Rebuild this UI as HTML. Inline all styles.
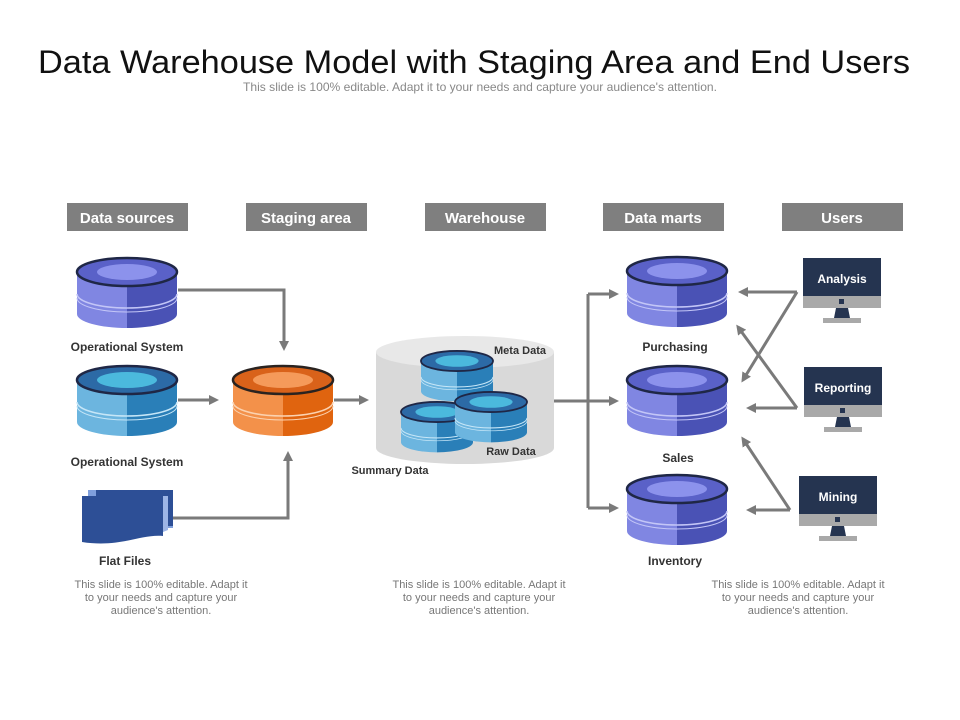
<!DOCTYPE html>
<html><head><meta charset="utf-8"><style>
html,body{margin:0;padding:0;background:#fff;}
svg{display:block;font-family:"Liberation Sans",sans-serif;}
</style></head><body>
<svg width="960" height="720" viewBox="0 0 960 720" xmlns="http://www.w3.org/2000/svg">
<defs>
<g id="cp">
<path d="M-50 0 L-50 42 A50 14 0 0 0 0 56 L0 0 Z" fill="#8086e2"/>
<path d="M0 0 L0 56 A50 14 0 0 0 50 42 L50 0 Z" fill="#4a52b5"/>
<path d="M-50 22 A50 14 0 0 0 50 22" fill="none" stroke="#c3c6f7" stroke-width="1.5"/>
<path d="M-50 26 A50 14 0 0 0 50 26" fill="none" stroke="#c3c6f7" stroke-width="1"/>
<ellipse cx="0" cy="0" rx="50" ry="14" fill="#5a61c8" stroke="#1f2746" stroke-width="2.5"/>
<ellipse cx="0" cy="0" rx="30" ry="8" fill="#8c92ec"/>
</g>
<g id="cb">
<path d="M-50 0 L-50 42 A50 14 0 0 0 0 56 L0 0 Z" fill="#6cb5df"/>
<path d="M0 0 L0 56 A50 14 0 0 0 50 42 L50 0 Z" fill="#2a7fb8"/>
<path d="M-50 22 A50 14 0 0 0 50 22" fill="none" stroke="#c6e6f7" stroke-width="1.5"/>
<path d="M-50 26 A50 14 0 0 0 50 26" fill="none" stroke="#c6e6f7" stroke-width="1"/>
<ellipse cx="0" cy="0" rx="50" ry="14" fill="#2c6aa6" stroke="#1f2746" stroke-width="2.5"/>
<ellipse cx="0" cy="0" rx="30" ry="8" fill="#4bb9dd"/>
</g>
<g id="co">
<path d="M-50 0 L-50 42 A50 14 0 0 0 0 56 L0 0 Z" fill="#f3914a"/>
<path d="M0 0 L0 56 A50 14 0 0 0 50 42 L50 0 Z" fill="#e0640f"/>
<path d="M-50 22 A50 14 0 0 0 50 22" fill="none" stroke="#fbd2b0" stroke-width="1.5"/>
<path d="M-50 26 A50 14 0 0 0 50 26" fill="none" stroke="#fbd2b0" stroke-width="1"/>
<ellipse cx="0" cy="0" rx="50" ry="14" fill="#d9621a" stroke="#2a2320" stroke-width="2.5"/>
<ellipse cx="0" cy="0" rx="30" ry="8" fill="#f59a5a"/>
</g>
<marker id="ah" markerWidth="10" markerHeight="10" refX="7" refY="5" orient="auto" markerUnits="userSpaceOnUse">
<path d="M0 0 L10 5 L0 10 Z" fill="#7a7a7a"/>
</marker>
<g id="mon">
<rect x="0" y="0" width="78" height="38" fill="#253450"/>
<rect x="0" y="38" width="78" height="12" fill="#a9a9a9"/>
<rect x="36" y="41" width="5" height="5" fill="#253450"/>
<path d="M33 50 L45 50 L47 60 L31 60 Z" fill="#253450"/>
<rect x="20" y="60" width="38" height="5" fill="#a9a9a9"/>
</g>
</defs>

<text x="474" y="73" text-anchor="middle" font-size="32" fill="#111" textLength="872" lengthAdjust="spacingAndGlyphs">Data Warehouse Model with Staging Area and End Users</text>
<text x="480" y="91" text-anchor="middle" font-size="12" fill="#888" textLength="474" lengthAdjust="spacingAndGlyphs">This slide is 100% editable. Adapt it to your needs and capture your audience's attention.</text>

<g font-size="15" font-weight="bold" fill="#fff" text-anchor="middle">
<rect x="67" y="203" width="121" height="28" fill="#7f7f7f"/><text x="127" y="223">Data sources</text>
<rect x="246" y="203" width="121" height="28" fill="#7f7f7f"/><text x="306" y="223">Staging area</text>
<rect x="425" y="203" width="121" height="28" fill="#7f7f7f"/><text x="485" y="223">Warehouse</text>
<rect x="603" y="203" width="121" height="28" fill="#7f7f7f"/><text x="663" y="223">Data marts</text>
<rect x="782" y="203" width="121" height="28" fill="#7f7f7f"/><text x="842" y="223">Users</text>
</g>

<g stroke="#7a7a7a" stroke-width="3" fill="none">
<path d="M178 290 H284 V348" marker-end="url(#ah)"/>
<path d="M178 400 H216" marker-end="url(#ah)"/>
<path d="M172 518 H288 V454" marker-end="url(#ah)"/>
<path d="M334 400 H366" marker-end="url(#ah)"/>
<path d="M554 401 H588"/>
<path d="M588 294 V508"/>
<path d="M588 294 H616" marker-end="url(#ah)"/>
<path d="M588 401 H616" marker-end="url(#ah)"/>
<path d="M588 508 H616" marker-end="url(#ah)"/>
<path d="M797 292 H741" marker-end="url(#ah)"/>
<path d="M797 292 L743 380" marker-end="url(#ah)"/>
<path d="M797 408 H749" marker-end="url(#ah)"/>
<path d="M797 408 L738 327" marker-end="url(#ah)"/>
<path d="M790 510 H749" marker-end="url(#ah)"/>
<path d="M790 510 L743 439" marker-end="url(#ah)"/>
</g>

<use href="#cp" transform="translate(127,272)"/>
<use href="#cb" transform="translate(127,380)"/>
<use href="#co" transform="translate(283,380)"/>
<use href="#cp" transform="translate(677,271)"/>
<use href="#cp" transform="translate(677,380)"/>
<use href="#cp" transform="translate(677,489)"/>

<!-- flat files -->
<rect x="88" y="490" width="85" height="38" fill="#7f9fdc"/>
<rect x="96" y="490" width="77" height="36" fill="#2d4f96"/>
<path d="M82 496 H163 V536 C140 534 120 548 82 542 Z" fill="#2d4f96"/>
<path d="M163 496 H168 V530 L163 532 Z" fill="#9db5e6"/>

<!-- warehouse -->
<path d="M376 352 V448 A89 16 0 0 0 554 448 V352 Z" fill="#d9d9d9"/>
<ellipse cx="465" cy="352" rx="89" ry="16" fill="#e8e8e8"/>
<use href="#cb" transform="translate(457,361) scale(0.72)"/>
<use href="#cb" transform="translate(437,412) scale(0.72)"/>
<use href="#cb" transform="translate(491,402) scale(0.72)"/>

<g font-size="12" font-weight="bold" fill="#333" text-anchor="middle">
<text x="127" y="351">Operational System</text>
<text x="127" y="466">Operational System</text>
<text x="125" y="565">Flat Files</text>
<text x="675" y="351">Purchasing</text>
<text x="678" y="462">Sales</text>
<text x="675" y="565">Inventory</text>
</g>
<g font-size="11" font-weight="bold" fill="#333" text-anchor="middle">
<text x="520" y="354">Meta Data</text>
<text x="511" y="455">Raw Data</text>
<text x="390" y="474">Summary Data</text>
</g>

<use href="#mon" transform="translate(803,258)"/>
<use href="#mon" transform="translate(804,367)"/>
<use href="#mon" transform="translate(799,476)"/>
<g font-size="12" font-weight="bold" fill="#fff" text-anchor="middle">
<text x="842" y="283">Analysis</text>
<text x="843" y="392">Reporting</text>
<text x="838" y="501">Mining</text>
</g>

<g font-size="11" fill="#777" text-anchor="middle">
<text x="161" y="588">This slide is 100% editable. Adapt it</text>
<text x="161" y="601">to your needs and capture your</text>
<text x="161" y="614">audience's attention.</text>
<text x="479" y="588">This slide is 100% editable. Adapt it</text>
<text x="479" y="601">to your needs and capture your</text>
<text x="479" y="614">audience's attention.</text>
<text x="798" y="588">This slide is 100% editable. Adapt it</text>
<text x="798" y="601">to your needs and capture your</text>
<text x="798" y="614">audience's attention.</text>
</g>
</svg>
</body></html>
